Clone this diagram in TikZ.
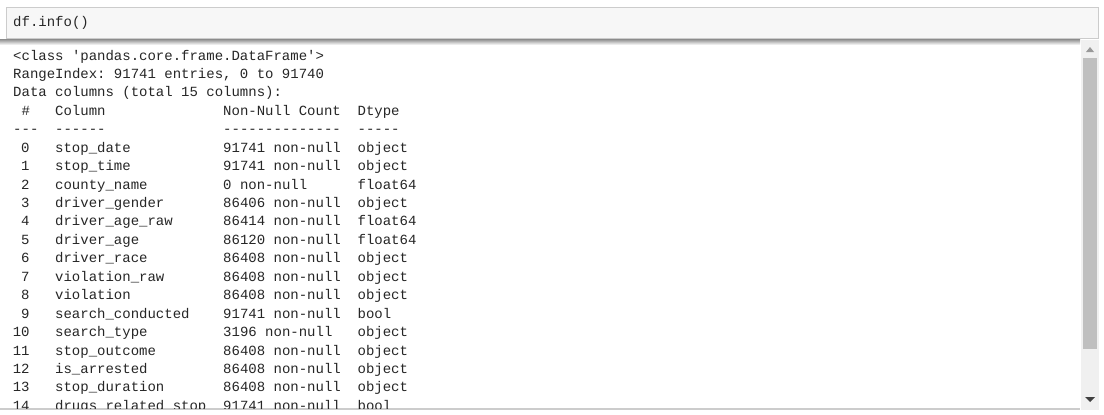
\documentclass[tikz,border=0pt]{standalone}
\usepackage{fontspec}
\setmonofont{Liberation Mono}
\begin{document}
\begin{tikzpicture}[x=1pt,y=1pt,
  txt/.style={anchor=base west,inner sep=0pt,font=\ttfamily\fontsize{14}{14}\selectfont,text=black!85},
  num/.style={anchor=base east,inner sep=0pt,font=\ttfamily\fontsize{14}{14}\selectfont,text=black!85}]
\useasboundingbox[fill=white] (0,0) rectangle (1104,-415);
% input cell
\node[draw=black!20,fill=black!3,minimum width=1092,minimum height=31,anchor=north west,inner sep=0pt] (cell) at (6,-7) {};
\node[txt] (code) at (13,-27) {df.info()};
% shadow
\shade[top color=black!45,bottom color=white] (0,-39) rectangle (1080,-45);
% scrollbar
\fill[black!6] (1081,-40) rectangle (1099,-410);
\fill[black!25] (1083,-58) rectangle (1097,-349);
\fill[black!40] (1086,-52) -- (1094,-52) -- (1090,-47) -- cycle;
\fill[black!75] (1085,-397) -- (1095,-397) -- (1090,-402) -- cycle;
\fill[black!20] (0,-408) rectangle (1080,-410);
\begin{scope}
\clip (0,-40) rectangle (1080,-408);
\def\ch{8.4}
\def\ly#1{-60-18.44*#1}
\node[txt] (l0) at (13,{\ly{0}}) {<class 'pandas.core.frame.DataFrame'>};
\node[txt] (l1) at (13,{\ly{1}}) {RangeIndex: 91741 entries, 0 to 91740};
\node[txt] (l2) at (13,{\ly{2}}) {Data columns (total 15 columns):};
\node[txt] (h0) at ({13+\ch},{\ly{3}}) {\#};
\node[txt] (h1) at ({13+5*\ch},{\ly{3}}) {Column};
\node[txt] (h2) at ({13+25*\ch},{\ly{3}}) {Non-Null Count};
\node[txt] (h3) at ({13+41*\ch},{\ly{3}}) {Dtype};
\node[txt] (d0) at (13,{\ly{4}}) {-{}-{}-};
\node[txt] (d1) at ({13+5*\ch},{\ly{4}}) {-{}-{}-{}-{}-{}-};
\node[txt] (d2) at ({13+25*\ch},{\ly{4}}) {-{}-{}-{}-{}-{}-{}-{}-{}-{}-{}-{}-{}-{}-};
\node[txt] (d3) at ({13+41*\ch},{\ly{4}}) {-{}-{}-{}-{}-};
\foreach \i/\n/\c/\t [count=\k from 5] in {
 0/stop_date/91741 non-null/object,
 1/stop_time/91741 non-null/object,
 2/county_name/0 non-null/float64,
 3/driver_gender/86406 non-null/object,
 4/driver_age_raw/86414 non-null/float64,
 5/driver_age/86120 non-null/float64,
 6/driver_race/86408 non-null/object,
 7/violation_raw/86408 non-null/object,
 8/violation/86408 non-null/object,
 9/search_conducted/91741 non-null/bool,
 10/search_type/3196 non-null/object,
 11/stop_outcome/86408 non-null/object,
 12/is_arrested/86408 non-null/object,
 13/stop_duration/86408 non-null/object,
 14/drugs_related_stop/91741 non-null/bool}{
  \node[num] (r\i a) at ({13+2*\ch},{\ly{\k}}) {\i};
  \node[txt] (r\i b) at ({13+5*\ch},{\ly{\k}}) {\detokenize\expandafter{\n}};
  \node[txt] (r\i c) at ({13+25*\ch},{\ly{\k}}) {\c};
  \node[txt] (r\i d) at ({13+41*\ch},{\ly{\k}}) {\t};
}
\end{scope}
\end{tikzpicture}
\end{document}
